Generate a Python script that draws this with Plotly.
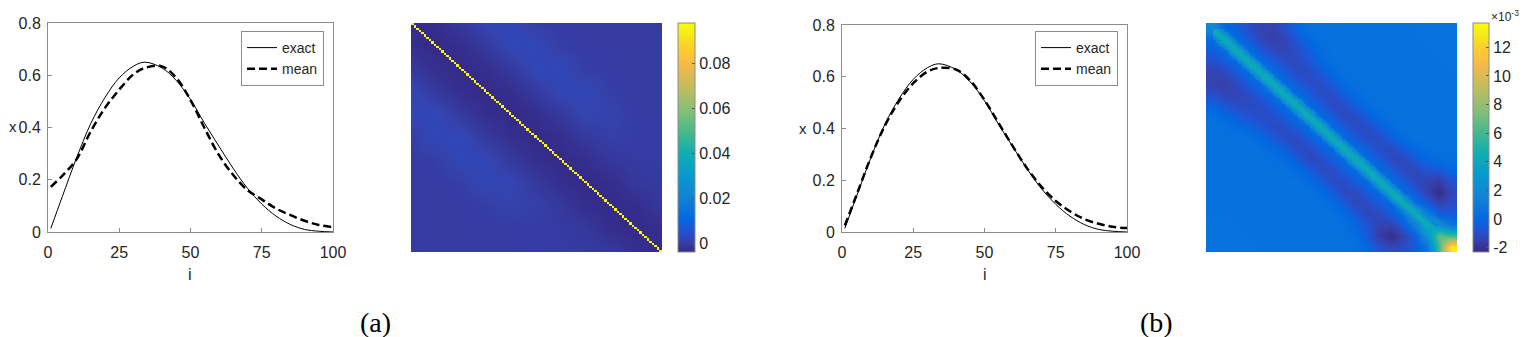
import numpy as np
import plotly.graph_objects as go

# --- line panels -------------------------------------------------------
idx = [1, 5, 10, 15, 20, 25, 30, 34, 40, 45, 50, 55, 60, 65, 70, 75, 80, 85, 90, 95, 100]
exact = [0.014, 0.135, 0.283, 0.415, 0.515, 0.59, 0.635, 0.65, 0.628, 0.58, 0.507,
         0.415, 0.328, 0.243, 0.167, 0.107, 0.061, 0.029, 0.01, 0.003, 0.0]
mean_a = [0.173, 0.215, 0.278, 0.385, 0.475, 0.545, 0.604, 0.628, 0.634, 0.59, 0.505,
          0.396, 0.294, 0.218, 0.16, 0.125, 0.09, 0.065, 0.043, 0.027, 0.018]
mean_b = [0.025, 0.14, 0.285, 0.41, 0.505, 0.575, 0.62, 0.634, 0.628, 0.585, 0.51,
          0.42, 0.33, 0.245, 0.175, 0.12, 0.08, 0.05, 0.032, 0.02, 0.015]

# --- covariance (a): smooth background (x1e-3) on a coarse grid + diagonal
grid_a = [0, 10, 20, 30, 40, 50, 60, 70, 80, 90, 100]
cov_a_bg = [
    [-4.0, -3.0, -1.0, 1.8, 2.0, 0.0, -0.6, -0.6, -0.6, -0.6, -0.6],
    [-3.0, -4.0, -3.0, -1.0, 2.2, 2.2, 0.0, -0.6, -0.6, -0.6, -0.6],
    [-1.0, -3.0, -4.0, -3.0, -1.0, 2.2, 2.2, 0.0, -0.6, -0.6, -0.6],
    [1.8, -1.0, -3.0, -4.0, -3.0, -1.0, 2.0, 2.0, 0.0, -0.6, -0.6],
    [2.0, 2.2, -1.0, -3.0, -4.0, -3.0, -1.0, 1.5, 1.0, -0.6, -0.6],
    [0.0, 2.2, 2.2, -1.0, -3.0, -4.0, -3.0, -1.0, 0.3, -0.2, -0.6],
    [-0.6, 0.0, 2.2, 2.0, -1.0, -3.0, -4.0, -3.0, -1.2, -0.6, -0.6],
    [-0.6, -0.6, 0.0, 2.0, 1.5, -1.0, -3.0, -4.0, -3.2, -1.2, -0.6],
    [-0.6, -0.6, -0.6, 0.0, 1.0, 0.3, -1.2, -3.2, -4.0, -3.2, -1.2],
    [-0.6, -0.6, -0.6, -0.6, -0.6, -0.2, -0.6, -1.2, -3.2, -4.0, -3.0],
    [-0.6, -0.6, -0.6, -0.6, -0.6, -0.6, -0.6, -0.6, -1.2, -3.0, -4.0],
]
diag_idx = list(range(1, 101))
diag_a = [0.0975] * 100

# --- covariance (b), x1e-3: coarse field + diagonal band
grid_b = list(range(0, 101, 5))
cov_b = [
    [2.0, 0.2, -0.4, -1.0, -1.5, -1.5, -1.0, -0.2, 0.4, 0.5, 0.5, 0.5, 0.5, 0.5, 0.5, 0.5, 0.5, 0.5, 0.6, 0.6, 0.6],
    [0.2, 2.0, 0.2, -0.5, -1.3, -1.6, -1.4, -0.7, 0.0, 0.4, 0.5, 0.5, 0.5, 0.5, 0.5, 0.5, 0.5, 0.5, 0.6, 0.6, 0.6],
    [-0.4, 0.2, 2.0, 0.2, -0.6, -1.2, -1.4, -1.1, -0.4, 0.2, 0.5, 0.5, 0.5, 0.5, 0.5, 0.5, 0.5, 0.5, 0.5, 0.6, 0.6],
    [-1.0, -0.5, 0.2, 2.0, 0.2, -0.5, -1.1, -1.2, -0.8, -0.1, 0.4, 0.5, 0.5, 0.5, 0.5, 0.5, 0.5, 0.5, 0.5, 0.5, 0.6],
    [-1.5, -1.3, -0.6, 0.2, 2.0, 0.2, -0.5, -1.1, -1.1, -0.6, 0.1, 0.4, 0.5, 0.5, 0.5, 0.5, 0.5, 0.5, 0.5, 0.5, 0.5],
    [-1.5, -1.6, -1.2, -0.5, 0.2, 2.0, 0.2, -0.5, -1.0, -1.1, -0.5, 0.1, 0.4, 0.5, 0.5, 0.5, 0.5, 0.5, 0.5, 0.5, 0.5],
    [-1.0, -1.4, -1.4, -1.1, -0.5, 0.2, 2.0, 0.2, -0.5, -1.1, -1.1, -0.4, 0.2, 0.5, 0.5, 0.5, 0.5, 0.5, 0.5, 0.5, 0.5],
    [-0.2, -0.7, -1.1, -1.2, -1.1, -0.5, 0.2, 2.0, 0.2, -0.5, -1.2, -1.1, -0.4, 0.2, 0.5, 0.5, 0.5, 0.5, 0.5, 0.5, 0.5],
    [0.4, 0.0, -0.4, -0.8, -1.1, -1.0, -0.5, 0.2, 2.0, 0.2, -0.5, -1.2, -1.2, -0.4, 0.2, 0.5, 0.5, 0.5, 0.5, 0.5, 0.5],
    [0.5, 0.4, 0.2, -0.1, -0.6, -1.1, -1.1, -0.5, 0.2, 2.0, 0.2, -0.5, -1.1, -1.1, -0.4, 0.2, 0.5, 0.5, 0.5, 0.5, 0.5],
    [0.5, 0.5, 0.5, 0.4, 0.1, -0.5, -1.1, -1.2, -0.5, 0.2, 2.0, 0.2, -0.5, -1.1, -1.1, -0.4, 0.2, 0.5, 0.5, 0.5, 0.5],
    [0.5, 0.5, 0.5, 0.5, 0.4, 0.1, -0.4, -1.1, -1.2, -0.5, 0.2, 2.0, 0.2, -0.5, -1.1, -1.2, -0.5, 0.1, 0.4, 0.5, 0.5],
    [0.5, 0.5, 0.5, 0.5, 0.5, 0.4, 0.2, -0.4, -1.2, -1.1, -0.5, 0.2, 2.0, 0.2, -0.5, -1.2, -1.3, -0.6, 0.0, 0.3, 0.4],
    [0.5, 0.5, 0.5, 0.5, 0.5, 0.5, 0.5, 0.2, -0.4, -1.1, -1.1, -0.5, 0.2, 2.0, 0.2, -0.5, -1.2, -1.3, -0.8, -0.6, 0.0],
    [0.5, 0.5, 0.5, 0.5, 0.5, 0.5, 0.5, 0.5, 0.2, -0.4, -1.1, -1.1, -0.5, 0.2, 2.0, 0.2, -0.5, -1.2, -1.5, -1.7, -0.9],
    [0.5, 0.5, 0.5, 0.5, 0.5, 0.5, 0.5, 0.5, 0.5, 0.2, -0.4, -1.2, -1.2, -0.5, 0.2, 2.0, 0.2, -0.6, -1.5, -2.2, -1.3],
    [0.5, 0.5, 0.5, 0.5, 0.5, 0.5, 0.5, 0.5, 0.5, 0.5, 0.2, -0.5, -1.3, -1.2, -0.5, 0.2, 2.4, 0.6, -0.6, -1.5, -1.1],
    [0.5, 0.5, 0.5, 0.5, 0.5, 0.5, 0.5, 0.5, 0.5, 0.5, 0.5, 0.1, -0.6, -1.3, -1.2, -0.6, 0.6, 3.5, 1.4, -0.4, -0.6],
    [0.6, 0.6, 0.5, 0.5, 0.5, 0.5, 0.5, 0.5, 0.5, 0.5, 0.5, 0.4, 0.0, -0.8, -1.5, -1.5, -0.6, 1.4, 4.6, 2.4, 0.8],
    [0.6, 0.6, 0.6, 0.5, 0.5, 0.5, 0.5, 0.5, 0.5, 0.5, 0.5, 0.5, 0.3, -0.6, -1.7, -2.2, -1.5, -0.4, 2.4, 6.8, 6.0],
    [0.6, 0.6, 0.6, 0.6, 0.5, 0.5, 0.5, 0.5, 0.5, 0.5, 0.5, 0.5, 0.4, 0.0, -0.9, -1.3, -1.1, -0.6, 0.8, 6.0, 13.0],
]
# band value by distance |i-j| from the diagonal, for rows 1..90
band_b = [4.4, 4.1, 3.4, 2.5, 1.5]
band_rows = list(range(1, 91))

cb_a_ticks = [0, 0.02, 0.04, 0.06, 0.08]
cb_b_ticks = [-2, 0, 2, 4, 6, 8, 10, 12]

# MATLAB parula (sampled)
parula = [
    [0.0, '#352a87'], [0.048, '#3542ad'], [0.095, '#2053d4'], [0.143, '#0268e1'],
    [0.238, '#1282d6'], [0.333, '#0799cf'], [0.429, '#0fadb3'], [0.524, '#46b98c'],
    [0.619, '#87bf77'], [0.714, '#c0bc60'], [0.810, '#f1b94a'], [0.857, '#ffc33a'],
    [0.905, '#f9d427'], [0.952, '#f5eb17'], [1.0, '#f9fb0e'],
]

# page is offset by the 8px body margin
OFF = 8
W, H = 1529 - OFF, 337 - OFF
FONT = 'Liberation Sans'
txt = '#262626'

fig = go.Figure()

# panel (a) lines
fig.add_trace(go.Scatter(x=idx, y=exact, name='exact', mode='lines', line_shape='spline',
                         line=dict(color='black', width=1), xaxis='x', yaxis='y', legend='legend'))
fig.add_trace(go.Scatter(x=idx, y=mean_a, name='mean', mode='lines', line_shape='spline',
                         line=dict(color='black', width=2.5, dash='8px,4px'),
                         xaxis='x', yaxis='y', legend='legend'))

# covariance (a)
bg_a = np.array(cov_a_bg) * 1e-3
fig.add_trace(go.Heatmap(x=grid_a, y=grid_a, z=bg_a, zsmooth='best', coloraxis='coloraxis',
                         xaxis='x2', yaxis='y2', hoverinfo='skip'))
z_diag = np.full((100, 100), np.nan)
for k, v in enumerate(diag_a):
    z_diag[k, k] = v
fig.add_trace(go.Heatmap(x=diag_idx, y=diag_idx, z=z_diag, coloraxis='coloraxis',
                         xaxis='x2', yaxis='y2', hoverinfo='skip'))

# panel (b) lines
fig.add_trace(go.Scatter(x=idx, y=exact, name='exact', mode='lines', line_shape='spline',
                         line=dict(color='black', width=1), xaxis='x3', yaxis='y3', legend='legend2'))
fig.add_trace(go.Scatter(x=idx, y=mean_b, name='mean', mode='lines', line_shape='spline',
                         line=dict(color='black', width=2.5, dash='8px,4px'),
                         xaxis='x3', yaxis='y3', legend='legend2'))

# covariance (b)
fig.add_trace(go.Heatmap(x=grid_b, y=grid_b, z=cov_b, zsmooth='best', coloraxis='coloraxis2',
                         xaxis='x4', yaxis='y4', hoverinfo='skip'))
z_band = np.full((100, 100), np.nan)
for r in band_rows:
    for d, v in enumerate(band_b):
        for c in (r - d, r + d):
            if 1 <= c <= 100:
                z_band[r - 1, c - 1] = v
fig.add_trace(go.Heatmap(x=diag_idx, y=diag_idx, z=z_band, coloraxis='coloraxis2',
                         xaxis='x4', yaxis='y4', hoverinfo='skip'))


def px_x(p):
    return (p - OFF) / W


def px_y(p):
    return 1 - (p - OFF) / H


line_ax = dict(showline=True, mirror=True, linecolor='#8c8c8c', linewidth=1, automargin=False,
               ticks='inside', ticklen=4, tickcolor='#8c8c8c', showgrid=False, zeroline=False,
               tickfont=dict(family=FONT, size=16, color=txt))
xa = dict(line_ax, range=[0, 100], tickvals=[0, 25, 50, 75, 100], ticklabelstandoff=6)
ya = dict(line_ax, range=[0, 0.8], tickvals=[0, 0.2, 0.4, 0.6, 0.8], ticklabelstandoff=3,
          ticktext=['0', '0.2', '0.4', '0.6', '0.8'])
hm_ax = dict(visible=False, showgrid=False, zeroline=False, automargin=False)

legend_style = dict(bgcolor='white', bordercolor='#8c8c8c', borderwidth=1,
                    font=dict(family=FONT, size=14, color=txt), itemwidth=30,
                    tracegroupgap=0, xanchor='right', yanchor='top')

cb_common = dict(thickness=17, thicknessmode='pixels', lenmode='fraction', len=229 / H,
                 xanchor='left', yanchor='top', y=px_y(23), xpad=0, ypad=0,
                 outlinecolor='#8c8c8c', outlinewidth=1, ticks='inside', ticklen=3,
                 tickcolor='#555', tickfont=dict(family=FONT, size=16, color=txt))


def label(text, x, y, size=16, family=FONT, angle=0, xanchor='center', color=txt):
    return dict(text=text, x=px_x(x), y=px_y(y), xref='paper', yref='paper', showarrow=False,
                xanchor=xanchor, yanchor='middle', textangle=angle, borderpad=0,
                font=dict(family=family, size=size, color=color))


fig.update_layout(
    width=W, height=H, margin=dict(l=0, r=0, t=0, b=0, autoexpand=False),
    paper_bgcolor='white', plot_bgcolor='white',
    xaxis=dict(xa, domain=[px_x(48), px_x(333)], anchor='y'),
    yaxis=dict(ya, domain=[px_y(232), px_y(23)], anchor='x'),
    xaxis2=dict(hm_ax, domain=[px_x(411), px_x(662)], anchor='y2', range=[0.5, 100.5]),
    yaxis2=dict(hm_ax, domain=[px_y(252), px_y(23)], anchor='x2', range=[100.5, 0.5]),
    xaxis3=dict(xa, domain=[px_x(842), px_x(1127)], anchor='y3'),
    yaxis3=dict(ya, domain=[px_y(232), px_y(25)], anchor='x3'),
    xaxis4=dict(hm_ax, domain=[px_x(1206), px_x(1457)], anchor='y4', range=[-2.5, 102.5]),
    yaxis4=dict(hm_ax, domain=[px_y(252), px_y(23)], anchor='x4', range=[102.5, -2.5]),
    coloraxis=dict(colorscale=parula, cmin=-0.004, cmax=0.0978,
                   colorbar=dict(cb_common, x=px_x(678), tickvals=cb_a_ticks,
                                 ticktext=['0', '0.02', '0.04', '0.06', '0.08'])),
    coloraxis2=dict(colorscale=parula, cmin=-2.3, cmax=13.7,
                    colorbar=dict(cb_common, x=px_x(1473), thickness=16, tickvals=cb_b_ticks,
                                  ticktext=[str(t) for t in cb_b_ticks])),
    legend=dict(legend_style, x=px_x(324), y=px_y(31)),
    legend2=dict(legend_style, x=px_x(1118), y=px_y(31)),
    annotations=[
        label('x', 13, 127, size=15),
        label('i', 190, 274),
        label('x', 803, 128, size=15),
        label('i', 985, 274),
        label('(a)', 375, 322, size=28, family='Liberation Serif', color='black'),
        label('(b)', 1156, 322, size=28, family='Liberation Serif', color='black'),
        label('×10<sup>-3</sup>', 1490, 16, size=12, xanchor='left'),
    ],
)

fig.write_html("out.html")
